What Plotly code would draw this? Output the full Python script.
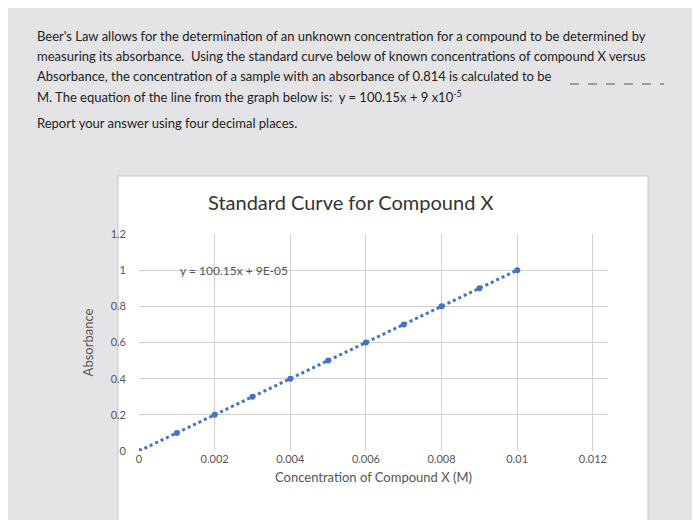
import plotly.graph_objects as go

conc = [0, 0.001, 0.002, 0.003, 0.004, 0.005, 0.006, 0.007, 0.008, 0.009, 0.010]
absorb = [0.00, 0.10, 0.20, 0.30, 0.40, 0.50, 0.60, 0.70, 0.80, 0.90, 1.00]
x_ticks = [0, 0.002, 0.004, 0.006, 0.008, 0.01, 0.012]
x_labels = ["0", "0.002", "0.004", "0.006", "0.008", "0.01", "0.012"]
y_ticks = [0, 0.2, 0.4, 0.6, 0.8, 1, 1.2]
y_labels = ["0", "0.2", "0.4", "0.6", "0.8", "1", "1.2"]

fig = go.Figure()
fig.add_trace(go.Scatter(x=conc, y=absorb, mode="lines+markers",
                         line=dict(color="#4472c4", width=3, dash="dot"),
                         marker=dict(color="#4472c4", size=6), showlegend=False))

font = "Lato"
lines = [
    "Beer's Law allows for the determination of an unknown concentration for a compound to be determined by",
    "measuring its absorbance.  Using the standard curve below of known concentrations of compound X versus",
    "Absorbance, the concentration of a sample with an absorbance of 0.814 is calculated to be",
    "M. The equation of the line from the graph below is:  y = 100.15x + 9 x10<sup>-5</sup>",
]
L, R, T, B = 131, 100, 226, 77
W = 700 - L - R
H = 520 - T - B
def px(p):
    return (p - L) / W
def py(p):
    return (520 - B - p) / H

fig.update_layout(
    width=700, height=520, margin=dict(l=L, r=R, t=T, b=B),
    paper_bgcolor="#e4e4e6", plot_bgcolor="white",
    font=dict(family=font, color="#555"),
    xaxis=dict(range=[0, 0.0124], tickvals=x_ticks, ticktext=x_labels, showgrid=True,
               gridcolor="#d0d0d0", zeroline=False, showline=False, tickfont=dict(size=11),
               title=dict(text="Concentration of Compound X (M)", font=dict(size=13, color="#555"), standoff=8)),
    yaxis=dict(range=[0, 1.2], tickvals=y_ticks, ticktext=y_labels, showgrid=True,
               gridcolor="#d0d0d0", zeroline=False, ticklabelstandoff=12, tickfont=dict(size=11),
               title=dict(text="Absorbance", font=dict(size=13, color="#555"), standoff=14)),
    shapes=[dict(type="rect", xref="paper", yref="paper", x0=px(110), x1=px(640), y0=py(515), y1=py(168),
                 fillcolor="white", line=dict(color="#c8c8c8", width=1), layer="below"),
            dict(type="line", xref="paper", yref="paper", x0=px(562), x1=px(656), y0=py(76), y1=py(76),
                 line=dict(color="#555", width=1, dash="dash"))],
)
texts = []
for i, t in enumerate(lines):
    texts.append(dict(text=t, xref="paper", yref="paper", x=px(27), y=py(28 + 20 * i),
                      showarrow=False, xanchor="left", yanchor="middle",
                      font=dict(family=font, size=13, color="#222")))
texts.append(dict(text="Report your answer using four decimal places.", xref="paper", yref="paper",
                  x=px(27), y=py(115), showarrow=False, xanchor="left", yanchor="middle",
                  font=dict(family=font, size=13, color="#222")))
texts.append(dict(text="Standard Curve for Compound X", xref="paper", yref="paper", x=px(343), y=py(194),
                  showarrow=False, xanchor="center", yanchor="middle",
                  font=dict(family=font, size=20, color="#333")))
texts.append(dict(text="y = 100.15x + 9E-05", x=0.0025, y=1.0, showarrow=False,
                  font=dict(family=font, size=12, color="#555")))
fig.update_layout(annotations=texts)
fig.write_html("out.html")
